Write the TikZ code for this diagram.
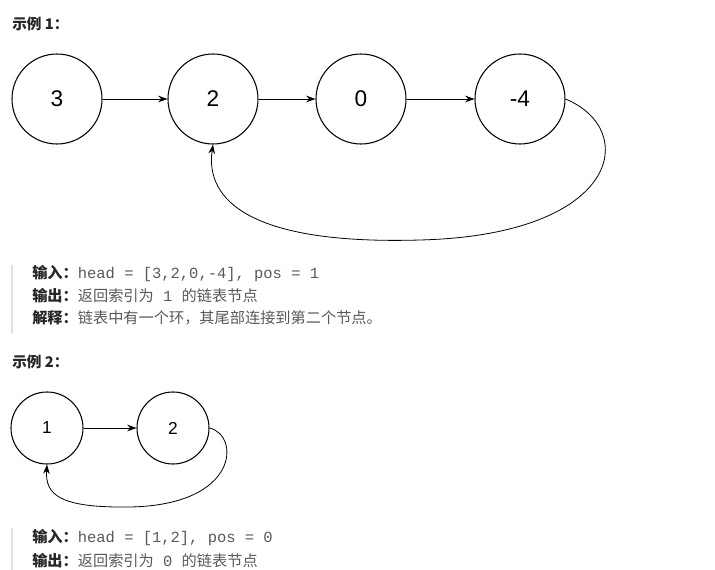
\documentclass[tikz,border=0pt]{standalone}
\usepackage{fontspec}
\setmainfont{Liberation Sans}
\newfontfamily\cjk{Noto Sans CJK SC}
\newfontfamily\mono{Liberation Mono}
\usetikzlibrary{arrows.meta}
\definecolor{txt}{HTML}{262626}
\definecolor{gtxt}{HTML}{595959}
\definecolor{barc}{HTML}{E0E0E0}
\newcommand{\mc}[1]{{\mono\fontsize{11.6}{12}\selectfont #1}}
\begin{document}
\begin{tikzpicture}[x=0.75pt,y=-0.75pt,
  bigc/.style={circle,draw,line width=0.8pt,minimum size=67.5pt,inner sep=0pt,font=\fontsize{17}{20}\selectfont},
  smc/.style={circle,draw,line width=0.8pt,minimum size=54pt,inner sep=0pt,font=\fontsize{13}{16}\selectfont},
  arr/.style={-{Stealth[length=7pt,width=5pt]},line width=0.6pt},
  ttl/.style={anchor=west,inner sep=0pt,font=\cjk\bfseries\fontsize{11}{12}\selectfont,text=txt},
  line/.style={anchor=west,inner sep=0pt,font=\cjk\fontsize{11.4}{12}\selectfont,text=gtxt},
  bar/.style={barc,line width=2.2pt}]
\useasboundingbox (0,0) rectangle (715,570);
\node[ttl] (t1) at (12,24) {示例 1：};
\node[bigc] (a) at (57,99) {3};
\node[bigc] (b) at (213,99) {2};
\node[bigc] (c) at (361,99) {0};
\node[bigc] (d) at (520,99) {-4};
\draw[arr] (a) -- (b);
\draw[arr] (b) -- (c);
\draw[arr] (c) -- (d);
\draw[arr] (d.east) .. controls (640,130) and (620,235) .. (420,240) .. controls (250,245) and (205,200) .. (b.south);
\draw[bar] (12,265) -- (12,333);
\node[line] (l1) at (32,274) {{\color{txt}\textbf{输入：}}\mc{head = [3,2,0,-4], pos = 1}};
\node[line] (l2) at (32,296) {{\color{txt}\textbf{输出：}}返回索引为\mc{ 1 }的链表节点};
\node[line] (l3) at (32,318) {{\color{txt}\textbf{解释：}}链表中有一个环，其尾部连接到第二个节点。};
\node[ttl] (t2) at (12,362) {示例 2：};
\node[smc] (e) at (47,428) {1};
\node[smc] (f) at (173,428) {2};
\draw[arr] (e) -- (f);
\draw[arr] (f.east) .. controls (240,435) and (240,505) .. (130,507) .. controls (60,508) and (45,495) .. (e.south);
\draw[bar] (12,528) -- (12,570);
\node[line] (l4) at (32,538) {{\color{txt}\textbf{输入：}}\mc{head = [1,2], pos = 0}};
\node[line] (l5) at (32,561) {{\color{txt}\textbf{输出：}}返回索引为\mc{ 0 }的链表节点};
\end{tikzpicture}
\end{document}
